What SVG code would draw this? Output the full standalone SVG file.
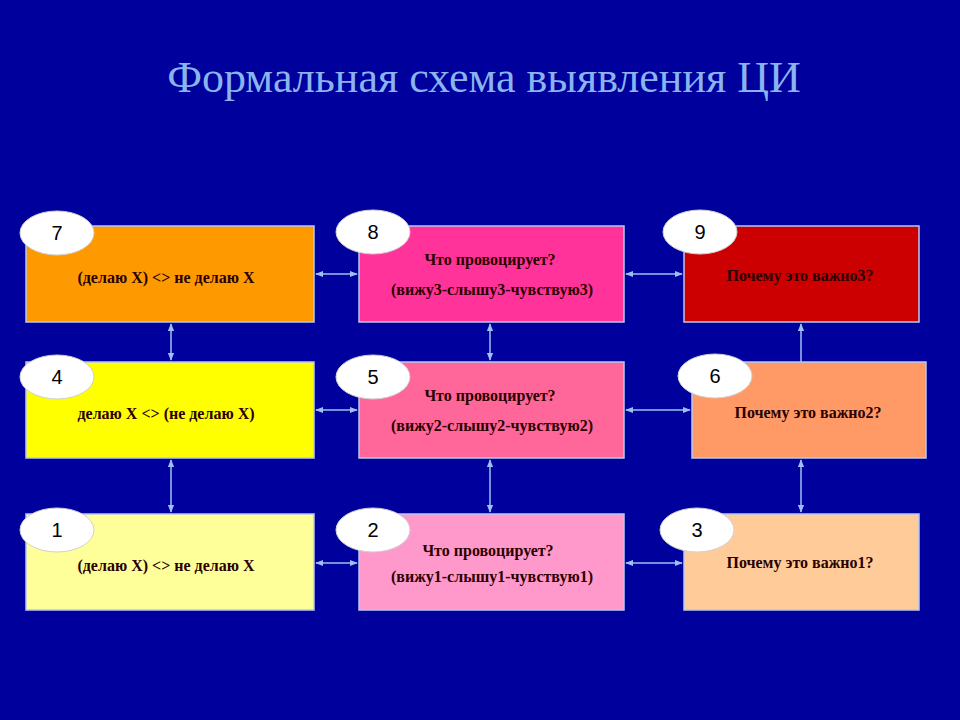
<svg xmlns="http://www.w3.org/2000/svg" width="960" height="720" viewBox="0 0 960 720">
<defs>
<marker id="ah" viewBox="0 0 10 10" refX="9" refY="5" markerWidth="8" markerHeight="8" orient="auto-start-reverse" markerUnits="userSpaceOnUse"><path d="M0,1 L10,5 L0,9 z" fill="#9cc0f5"/></marker>
<style>
.box{stroke:#b8c8f0;stroke-width:1.5}
.t{font-family:"Liberation Serif",serif;font-weight:bold;font-size:16px;fill:#2a0000;text-anchor:middle}
.n{font-family:"Liberation Sans",sans-serif;font-size:20px;fill:#000;text-anchor:middle}
.e{fill:#fff;stroke:#d0d0d0}
.c line{stroke:#9cc0f5;stroke-width:1.5}
</style>
</defs>
<rect width="960" height="720" fill="#00009c"/>
<text x="484" y="92" font-family="Liberation Serif,serif" font-size="44" fill="#8ab4f0" text-anchor="middle">Формальная схема выявления ЦИ</text>
<g class="c">
<line x1="171" y1="324" x2="171" y2="360" marker-start="url(#ah)" marker-end="url(#ah)"/>
<line x1="490" y1="324" x2="490" y2="360" marker-start="url(#ah)" marker-end="url(#ah)"/>
<line x1="801" y1="324" x2="801" y2="362" marker-start="url(#ah)"/>
<line x1="171" y1="460" x2="171" y2="512" marker-start="url(#ah)" marker-end="url(#ah)"/>
<line x1="490" y1="460" x2="490" y2="512" marker-start="url(#ah)" marker-end="url(#ah)"/>
<line x1="801" y1="460" x2="801" y2="512" marker-start="url(#ah)" marker-end="url(#ah)"/>
<line x1="316" y1="274" x2="357" y2="274" marker-start="url(#ah)" marker-end="url(#ah)"/>
<line x1="626" y1="274" x2="682" y2="274" marker-start="url(#ah)" marker-end="url(#ah)"/>
<line x1="316" y1="410" x2="357" y2="410" marker-start="url(#ah)" marker-end="url(#ah)"/>
<line x1="626" y1="410" x2="690" y2="410" marker-start="url(#ah)" marker-end="url(#ah)"/>
<line x1="316" y1="563" x2="357" y2="563" marker-start="url(#ah)" marker-end="url(#ah)"/>
<line x1="626" y1="563" x2="682" y2="563" marker-start="url(#ah)" marker-end="url(#ah)"/>
</g>
<g id="n7"><rect class="box" x="26" y="226" width="288" height="96" fill="#ff9900"/><ellipse class="e" cx="57" cy="233" rx="37" ry="22"/><text class="n" x="57" y="240">7</text><text class="t" x="166" y="283">(делаю X) &lt;&gt; не делаю X</text></g>
<g id="n8"><rect class="box" x="359" y="226" width="265" height="96" fill="#ff3399"/><ellipse class="e" cx="373" cy="232" rx="37" ry="22"/><text class="n" x="373" y="239">8</text><text class="t" x="490" y="265">Что провоцирует?</text><text class="t" x="492" y="295">(вижу3-слышу3-чувствую3)</text></g>
<g id="n9"><rect class="box" x="684" y="226" width="235" height="96" fill="#cc0000"/><ellipse class="e" cx="700" cy="232" rx="37" ry="22"/><text class="n" x="700" y="239">9</text><text class="t" x="800" y="281">Почему это важно3?</text></g>
<g id="n4"><rect class="box" x="26" y="362" width="288" height="96" fill="#ffff00"/><ellipse class="e" cx="57" cy="377" rx="37" ry="22"/><text class="n" x="57" y="384">4</text><text class="t" x="166" y="419">делаю X &lt;&gt; (не делаю X)</text></g>
<g id="n5"><rect class="box" x="359" y="362" width="265" height="96" fill="#ff6699"/><ellipse class="e" cx="373" cy="377" rx="37" ry="22"/><text class="n" x="373" y="384">5</text><text class="t" x="490" y="401">Что провоцирует?</text><text class="t" x="492" y="431">(вижу2-слышу2-чувствую2)</text></g>
<g id="n6"><rect class="box" x="692" y="362" width="234" height="96" fill="#ff9966"/><ellipse class="e" cx="715" cy="376" rx="37" ry="22"/><text class="n" x="715" y="383">6</text><text class="t" x="808" y="418">Почему это важно2?</text></g>
<g id="n1"><rect class="box" x="26" y="514" width="288" height="96" fill="#ffff99"/><ellipse class="e" cx="57" cy="530" rx="37" ry="22"/><text class="n" x="57" y="537">1</text><text class="t" x="166" y="571">(делаю X) &lt;&gt; не делаю X</text></g>
<g id="n2"><rect class="box" x="359" y="514" width="265" height="96" fill="#ff99cc"/><ellipse class="e" cx="373" cy="530" rx="37" ry="22"/><text class="n" x="373" y="537">2</text><text class="t" x="488" y="556">Что провоцирует?</text><text class="t" x="492" y="582">(вижу1-слышу1-чувствую1)</text></g>
<g id="n3"><rect class="box" x="684" y="514" width="235" height="96" fill="#ffcc99"/><ellipse class="e" cx="697" cy="530" rx="37" ry="22"/><text class="n" x="697" y="537">3</text><text class="t" x="800" y="568">Почему это важно1?</text></g>
</svg>
